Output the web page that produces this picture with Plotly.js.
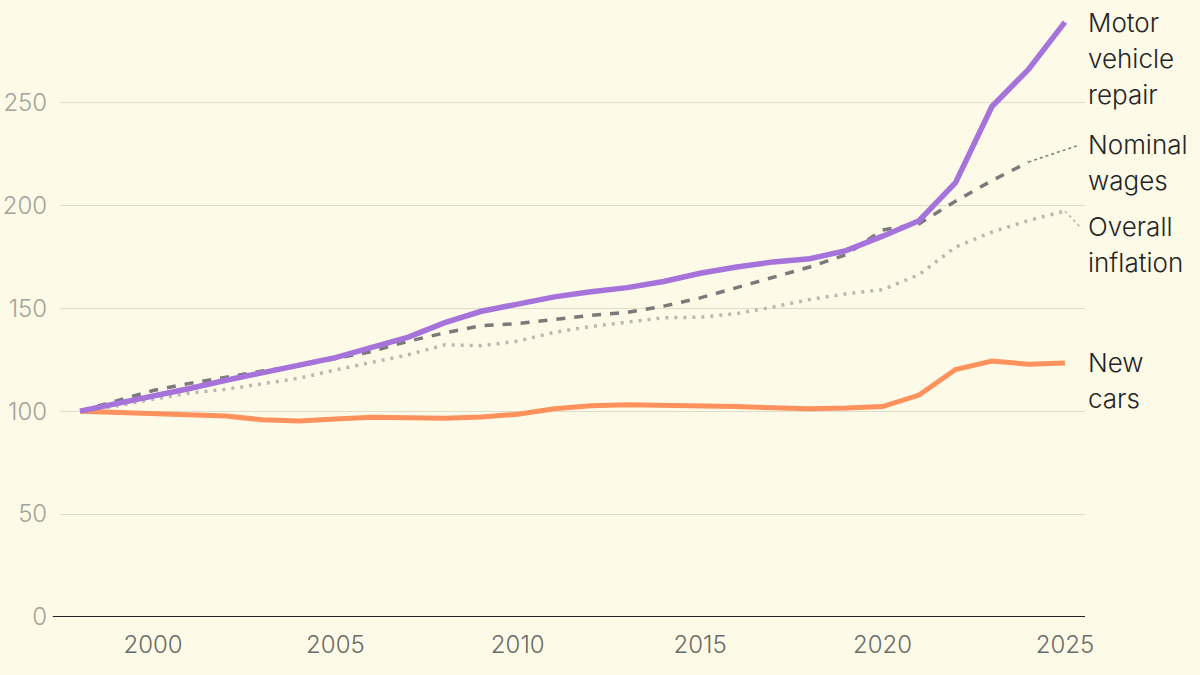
<!DOCTYPE html>
<html>
<head>
<meta charset="utf-8">
<script src="https://cdn.plot.ly/plotly-3.0.1.min.js"></script>
<style>
  html, body { margin: 0; padding: 0; background: #fdfbe8; }
  #chart { width: 1200px; height: 675px; }
</style>
</head>
<body>
<div id="chart"></div>
<script>
// index, 1998 = 100
var years = [1998, 1999, 2000, 2001, 2002, 2003, 2004, 2005, 2006, 2007,
             2008, 2009, 2010, 2011, 2012, 2013, 2014, 2015, 2016, 2017,
             2018, 2019, 2020, 2021, 2022, 2023, 2024, 2025];

var repair = [100, 103.5, 107, 111, 115, 118.5, 122, 126, 131, 136,
              143, 148.5, 152, 155.5, 158, 160, 163, 167, 170, 172.5,
              174, 178, 185, 192.5, 211, 248, 266, 289];

var wages = [100, 105, 110, 113.5, 116.5, 119.5, 122, 125.5, 129, 134,
             138, 141.5, 142.5, 144.5, 146.5, 148, 151, 155, 160, 165,
             170, 176, 188, 191, 202, 212, 221];

var inflation = [100, 102.5, 105.8, 108.8, 110.6, 113.1, 116, 120, 123.9, 127.4,
                 132.2, 131.8, 134, 138.3, 141.1, 143.2, 145.4, 145.6, 147.4, 150.6,
                 154.2, 157, 159, 166.3, 179.7, 187, 192.6, 197.2];

var newCars = [100, 99.4, 99.2, 98.8, 97.6, 95.8, 95.2, 96.2, 97, 96.8,
               96.5, 97.2, 98.5, 101.2, 102.6, 103.1, 102.9, 102.7, 102.2, 101.6,
               101.2, 101.5, 102.2, 107.8, 120.2, 124.3, 122.8, 123.4];

var xTicks = [2000, 2005, 2010, 2015, 2020, 2025];
var yTicks = [0, 50, 100, 150, 200, 250];

var names = ['Motor<br>vehicle<br>repair', 'Nominal<br>wages', 'Overall<br>inflation', 'New<br>cars'];

var textFont = 'Inter, Liberation Sans, Arial, sans-serif';

var data = [
  {
    x: years.slice(0, inflation.length), y: inflation, type: 'scatter', mode: 'lines',
    line: { color: '#b9b9b2', width: 3.5, dash: '3px,6px' },
    hoverinfo: 'skip'
  },
  {
    x: years.slice(0, wages.length), y: wages, type: 'scatter', mode: 'lines',
    line: { color: '#7a7a78', width: 3.5, dash: '9px,9px' },
    hoverinfo: 'skip'
  },
  {
    x: years, y: newCars, type: 'scatter', mode: 'lines',
    line: { color: '#ff915c', width: 5 },
    hoverinfo: 'skip'
  },
  {
    x: years, y: repair, type: 'scatter', mode: 'lines',
    line: { color: '#a673da', width: 5.5 },
    hoverinfo: 'skip'
  }
];

// label positions (first line), in y units
var labelTop = [289, 229.3, 189.8, 123.4];
var lineStep = 17.5;   // ~36px per text line

var annotations = [];
names.forEach(function (n, i) {
  n.split('<br>').forEach(function (part, j) {
    annotations.push({
      x: 1.001, y: labelTop[i] - j * lineStep, xref: 'paper', yref: 'y',
      xanchor: 'left', yanchor: 'middle', showarrow: false,
      text: part,
      font: { family: textFont, size: 26, weight: 300, color: '#242424' }
    });
  });
});

var lastW = wages.length - 1;
var lastI = inflation.length - 1;

var shapes = [
  // baseline
  { type: 'line', xref: 'paper', yref: 'y', x0: -0.007, x1: 1, y0: 0, y1: 0,
    line: { color: '#222', width: 2 } },
  // leader lines to the labels
  { type: 'line', xref: 'x', yref: 'y',
    x0: years[lastW], y0: wages[lastW], x1: 2025.4, y1: labelTop[1],
    line: { color: '#7a7a78', width: 1.5, dash: 'dot' } },
  { type: 'line', xref: 'x', yref: 'y',
    x0: years[lastI], y0: inflation[lastI], x1: 2025.4, y1: labelTop[2],
    line: { color: '#b9b9b2', width: 1.5, dash: 'dot' } }
];

var layout = {
  width: 1200,
  height: 675,
  paper_bgcolor: '#fdfbe8',
  plot_bgcolor: '#fdfbe8',
  showlegend: false,
  margin: { l: 60, r: 115, t: 20, b: 58 },
  xaxis: {
    range: [1997.45, 2025.55],
    tickvals: xTicks,
    ticktext: xTicks.map(String),
    showgrid: false,
    zeroline: false,
    showline: false,
    ticks: 'outside',
    ticklen: 6,
    tickcolor: 'rgba(0,0,0,0)',
    tickfont: { family: textFont, size: 24, weight: 300, color: '#6b6b68' },
    fixedrange: true
  },
  yaxis: {
    range: [0, 290],
    tickvals: yTicks,
    ticktext: yTicks.map(String),
    showgrid: true,
    gridcolor: '#deddca',
    gridwidth: 1,
    zeroline: false,
    showline: false,
    ticks: 'outside',
    ticklen: 7,
    tickcolor: 'rgba(0,0,0,0)',
    tickfont: { family: textFont, size: 24, weight: 300, color: '#a3a39c' },
    fixedrange: true
  },
  annotations: annotations,
  shapes: shapes
};

var config = { displayModeBar: false, staticPlot: true };

Plotly.newPlot('chart', data, layout, config);
</script>
</body>
</html>
